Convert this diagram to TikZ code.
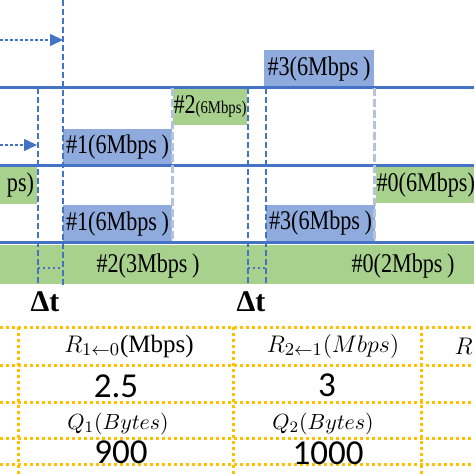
\documentclass[tikz,border=0pt]{standalone}
\usepackage{fontspec}
\setmainfont{Liberation Serif}
\newfontfamily\numfont{Carlito}
\newfontfamily\slotfont[FakeStretch=0.82]{Liberation Serif}
\usepackage{amsmath, amssymb}
\usetikzlibrary{arrows.meta}
\definecolor{lineblue}{HTML}{4472C4}
\definecolor{boxblue}{HTML}{8FAADC}
\definecolor{boxgreen}{HTML}{A9D18E}
\definecolor{ghostblue}{HTML}{B4C3DC}
\definecolor{gridgold}{HTML}{FFC000}

\begin{document}
\begin{tikzpicture}[x=0.5pt, y=-0.5pt,
    slot/.style={inner sep=0pt, minimum height=18.5pt, font=\slotfont\fontsize{13.5}{15}\selectfont},
    bluebox/.style={slot, fill=boxblue},
    greenbox/.style={slot, fill=boxgreen},
    link/.style={lineblue, line width=1.5pt},
    cut/.style={lineblue, line width=1pt, dash pattern=on 3pt off 1.5pt},
    ghost/.style={ghostblue, line width=1.5pt, dash pattern=on 4pt off 1.5pt},
    feed/.style={lineblue, line width=0.7pt, dash pattern=on 1.5pt off 1pt, -{Triangle[length=6.5pt, width=6pt]}},
    gap/.style={lineblue, line width=1pt, dash pattern=on 1pt off 1.5pt},
    grid/.style={gridgold, line width=1.5pt, dash pattern=on 1.5pt off 1.5pt},
    cell/.style={inner sep=0pt, font=\fontsize{12.5}{15}\selectfont},
    num/.style={inner sep=0pt, font=\numfont\fontsize{17.5}{20}\selectfont},
    delta/.style={inner sep=0pt, font=\fontsize{15}{17}\selectfont\bfseries}]
                \useasboundingbox (0,0) rectangle (474,474);
                \clip (0,0) rectangle (474,474);
                \fill[white] (0,0) rectangle (474,474);

                % packets on the links
                \node[bluebox, minimum width=55pt] (p3a) at (319,69) {\#3(6Mbps\,)};
                \node[greenbox, minimum width=37pt] (p2a) at (210,106.5) {\#2{\fontsize{9}{10}\selectfont(6Mbps)}};
                \node[bluebox, minimum width=54.5pt] (p1a) at (117.5,147.5) {\#1(6Mbps\,)};
                \node[greenbox, minimum width=18.5pt] (pl) at (18.5,185.5) {\hspace*{2pt}ps)};
                \node[greenbox, minimum width=49pt, text width=48.5pt, align=left] (p0a) at (425,185) {\#0(6Mbps)};
                \node[bluebox, minimum width=54.5pt] (p1b) at (117.5,224) {\#1(6Mbps\,)};
                \node[bluebox, minimum width=54.5pt] (p3b) at (320.5,223.5) {\#3(6Mbps\,)};
                \node[greenbox, minimum width=237pt, minimum height=19.5pt] (band) at (237,264.5) {};
                \node[slot] (lo2) at (148,266) {\#2(3Mbps\,)};
                \node[slot] (lo0) at (403,266) {\#0(2Mbps\,)};

                % links
                \draw[link] (0,87.5) -- (474,87.5);
                \draw[link] (0,166) -- (474,166);
                \draw[link] (0,243) -- (474,243);

                % time marks
                \draw[ghost] (172,88) -- (172,242);
                \draw[ghost] (374,88) -- (374,242);
                \draw[cut] (63,0) -- (63,286);
                \draw[cut] (38,88) -- (38,286);
                \draw[cut] (248,88) -- (248,286);
                \draw[cut] (266,88) -- (266,286);
                \draw[gap] (38,268) -- (63,268);
                \draw[gap] (248,268) -- (266,268);
                \node[delta] (dt1) at (45,302) {Δt};
                \node[delta] (dt2) at (251,302) {Δt};

                % arrivals
                \coordinate (a1s) at (0,40);
                \coordinate (a1e) at (63,40);
                \coordinate (a2s) at (0,145);
                \coordinate (a2e) at (37,145);
                \draw[feed] (a1s) -- (a1e);
                \draw[feed] (a2s) -- (a2e);

                % table
                \foreach \y in {327,365,402,438,464}
                    \draw[grid] (0,\y) -- (474,\y);
                \foreach \x in {18,233,421}
                    \draw[grid] (\x,327) -- (\x,474);
                \node[cell] (r10) at (129,346) {$R_{1\leftarrow 0}$(Mbps)};
                \node[num] (v10) at (116,386) {2.5};
                \node[cell, font=\fontsize{11}{13}\selectfont] (q1) at (118,424) {$Q_1(Bytes)$};
                \node[num] (v1) at (121,452) {900};
                \node[cell] (r21) at (333,346) {$R_{2\leftarrow 1}(Mbps)$};
                \node[num] (v21) at (327,385) {3};
                \node[cell, font=\fontsize{11}{13}\selectfont] (q2) at (323,424) {$Q_2(Bytes)$};
                \node[num] (v2) at (328,453) {1000};
                \node[cell, anchor=east] (r32) at (473,346) {$R$};
            \end{tikzpicture}
\end{document}
